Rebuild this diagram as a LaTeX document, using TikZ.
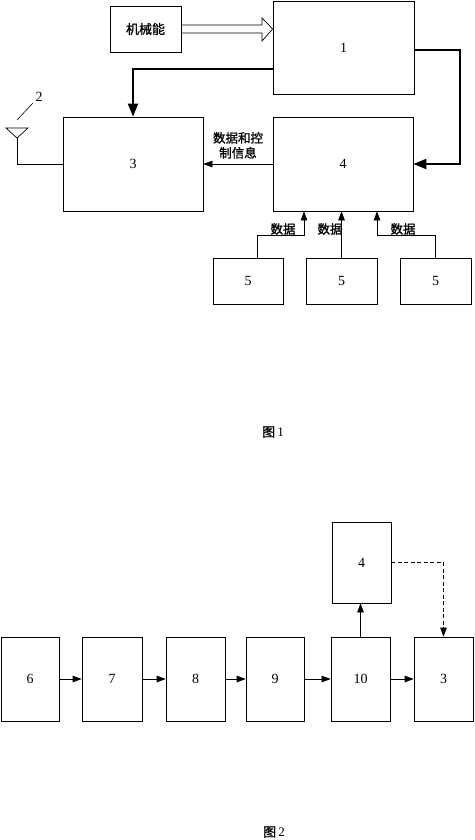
\documentclass[tikz,border=0pt]{standalone}
\usepackage{fontspec}
\setmainfont{Liberation Serif}
\newfontfamily\cjk[FakeBold=1.2]{Noto Sans CJK SC}
\usetikzlibrary{arrows.meta}

\begin{document}
\begin{tikzpicture}[
        x=1pt, y=-1pt,
        mybox/.style={
            draw=black,
            line width=0.7pt,
            inner sep=0pt,
            font=\fontsize{14}{16}\selectfont},
        mylabel/.style={
            font=\cjk\fontsize{12.5}{15}\selectfont,
            inner sep=0pt},
        myarrow/.style={line width=0.7pt,-{Triangle[length=9pt,width=6.5pt]}},
        mythick/.style={line width=2pt,-{Triangle[length=13pt,width=10pt]}}
        ]
        \useasboundingbox (0,0) rectangle (474,840);

        % figure 1
        \node[mybox,minimum width=71,minimum height=46,font=\cjk\fontsize{13}{15}\selectfont] (mech) at (145.5,29) {机械能};
        \node[mybox,minimum width=141,minimum height=93] (b1) at (343.5,47.5) {1};
        \node[mybox,minimum width=140,minimum height=94] (b3) at (133,164) {3};
        \node[mybox,minimum width=140,minimum height=94] (b4) at (343,164) {4};
        \node[mybox,minimum width=70,minimum height=46] (b5a) at (248,281) {5};
        \node[mybox,minimum width=71,minimum height=46] (b5b) at (341.5,281) {5};
        \node[mybox,minimum width=71,minimum height=46] (b5c) at (435.5,281) {5};

        % hollow arrow for the mechanical energy
        \draw[line width=0.7pt] (mech.east |- 0,25) -- (262,25) -- (262,18)
            -- (b1.west |- 0,29) -- (262,41) -- (262,33) -- (mech.east |- 0,33);

        % power lines
        \coordinate (r) at (460,50);
        \draw[mythick] (b1.west |- 0,69) -| (b3.north);
        \draw[mythick] (b1.east |- r) -- (r) |- (b4.east);

        % data and control
        \draw[myarrow] (b4.west) -- node[mylabel,above=5pt,align=center] (dc) {数据和控\\制信息} (b3.east);

        \coordinate (ka) at (304,235);
        \coordinate (kc) at (377,235);
        \draw[myarrow] ([xshift=9pt]b5a.north) |- (ka) -- (ka |- b4.south);
        \draw[myarrow] (b5b.north) -- (b5b.north |- b4.south);
        \draw[myarrow] (b5c.north) |- (kc) -- (kc |- b4.south);
        \node[mylabel] (d1) at (283,229) {数据};
        \node[mylabel] (d2) at (330,229) {数据};
        \node[mylabel] (d3) at (403,229) {数据};

        % antenna
        \coordinate (ant) at (17,138);
        \draw[line width=0.7pt] (b3.west) -| (ant);
        \draw[line width=0.7pt] (ant) -- ++(-11,-10) -- ++(22,0) -- cycle;
        \node[font=\fontsize{14}{16}\selectfont,inner sep=0pt] (n2) at (39,97) {2};
        \draw[line width=0.6pt] (33,103) -- (17,120);

        \node[font=\fontsize{13}{15}\selectfont] (cap1) at (273,432) {{\cjk 图}\,1};

        % figure 2
        \node[mybox,minimum width=59,minimum height=81] (f4) at (361.5,562.5) {4};
        \foreach \n/\x/\w in {6/30/58, 7/112/60, 8/195.5/59, 9/275/58, 10/360.5/59, 3/443.5/59}
            \node[mybox,minimum width=\w,minimum height=84] (f\n) at (\x,679) {\n};

        \foreach \i/\j in {f6/f7, f7/f8, f8/f9, f9/f10, f10/f3}
            \draw[myarrow] (\i) -- (\j);
        \draw[myarrow] (f10.north) -- (f10.north |- f4.south);
        \draw[myarrow,dash pattern=on 4pt off 2.5pt] (f4.east) -| (f3.north);

        \node[font=\fontsize{13}{15}\selectfont] (cap2) at (274,832) {{\cjk 图}\,2};
\end{tikzpicture}
\end{document}
